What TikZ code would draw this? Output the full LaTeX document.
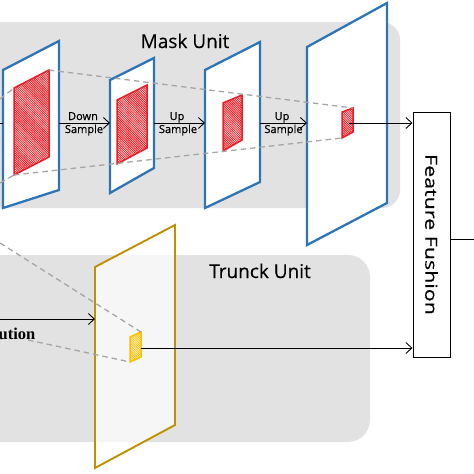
\documentclass[tikz,border=0pt]{standalone}
\usepackage{fontspec}
\setmainfont{Open Sans}
\newfontfamily\labelface{Open Sans}[FakeBold=0.7]
\newfontfamily\titleface{Open Sans}[FakeBold=0.4]
\newfontfamily\serifface{Liberation Serif}
\usetikzlibrary{arrows.meta,patterns.meta}
\definecolor{maskblue}{HTML}{2E75B6}
\definecolor{unitgrey}{HTML}{E2E2E2}
\definecolor{trunkgold}{HTML}{BF9000}
\definecolor{patchyellow}{HTML}{FFC000}
\definecolor{dashgrey}{HTML}{A6A6A6}
\definecolor{patchred}{HTML}{EE1C24}
\tikzset{
  unitbox/.style={fill=unitgrey, draw=none},
  maskplane/.style={draw=maskblue, line width=2.3pt, fill=white, line join=miter},
  trunkplane/.style={draw=trunkgold, line width=1.9pt, fill=white, fill opacity=0.7, line join=miter},
  redpatch/.style={draw=patchred, line width=1.5pt, line join=miter,
    preaction={fill=patchred},
    preaction={pattern={Lines[angle=-45,distance=1.6pt,line width=0.45pt]}, pattern color=white}},
  yellowpatch/.style={draw=patchyellow, line width=1.5pt, line join=miter,
    preaction={fill=patchyellow},
    preaction={pattern={Lines[angle=-45,distance=1.6pt,line width=0.45pt]}, pattern color=white}},
  guide/.style={draw=dashgrey, dash pattern=on 5.5pt off 4pt, line width=1.3pt},
  flow/.style={draw=black, line width=0.8pt, -{Straight Barb[length=6pt,width=11pt,line width=0.9pt]}},
  steplabel/.style={font=\labelface\fontsize{11}{11}\selectfont, inner sep=0pt, anchor=base},
  unittitle/.style={font=\titleface\fontsize{19}{19}\selectfont, inner sep=0pt, anchor=base},
  fusionbox/.style={draw=black, line width=1pt, fill=white, minimum width=37pt, minimum height=245pt, inner sep=0pt},
}
\begin{document}
\begin{tikzpicture}[x=1pt,y=-1pt]
\useasboundingbox[fill=white] (0,0) rectangle (474,474);

% unit backgrounds
\fill[unitbox, rounded corners=18pt] (-30,22) rectangle (400,208);
\fill[unitbox, rounded corners=22pt] (-30,255) rectangle (370,442);

% mask planes
\draw[maskplane] (3,70) -- (59,41) -- (59,190) -- (3,208) -- cycle;
\draw[maskplane] (110,80) -- (154,58) -- (154,168) -- (110,193) -- cycle;
\draw[maskplane] (205,70) -- (260,42) -- (260,182) -- (205,208) -- cycle;
\draw[maskplane] (307,47) -- (387,3) -- (387,203) -- (307,245) -- cycle;

% trunk plane
\draw[trunkplane] (95,267) -- (175,225) -- (175,425) -- (95,468) -- cycle;

% patches
\draw[redpatch] (14,88) coordinate (p1tl) -- (49,70) coordinate (p1tr) -- (49,157) -- (14,175) coordinate (p1bl) -- cycle;
\draw[redpatch] (117,100) -- (147,85) -- (147,148) -- (117,164) -- cycle;
\draw[redpatch] (223,103) -- (242,95) -- (242,140) -- (223,151) -- cycle;
\draw[redpatch] (342,112) coordinate (p4tl) -- (353,108) coordinate (p4tr) -- (353,132) -- (342,138) coordinate (p4bl) -- cycle;
\draw[yellowpatch] (130,337) coordinate (ytl) -- (141,332) coordinate (ytr) -- (141,357) -- (130,362) coordinate (ybl) -- cycle;

% guide lines
\coordinate (g1) at (0,99);
\coordinate (g2) at (0,183);
\coordinate (g3) at (0,243);
\coordinate (g4) at (28,340);
\draw[guide] (g1) -- (p1tl);
\draw[guide] (g2) -- (p1bl);
\draw[guide] (p1tr) -- (p4tr);
\draw[guide] (p1bl) -- (p4bl);
\draw[guide] (g3) -- (ytr);
\draw[guide] (g4) -- (ybl);

% fusion box
\node[fusionbox] (ff) at (431.5,234.5) {};
\node[rotate=-90, inner sep=0pt, font=\titleface\fontsize{16.5}{16.5}\selectfont] (fftext) at (ff.center) {\scalebox{1.3}[1]{Feature Fushion}};

% arrows
\coordinate (m0) at (0,123);
\coordinate (m1a) at (3,123);
\coordinate (m1b) at (59,123);
\coordinate (m2a) at (110,123);
\coordinate (m2b) at (154,123);
\coordinate (m3a) at (205,123);
\coordinate (m3b) at (260,123);
\coordinate (m4a) at (307,123);
\coordinate (p4c) at (349,123);
\coordinate (yc) at (141,348);
\coordinate (cin) at (0,319);
\coordinate (tin) at (95,319);
\coordinate (out) at (474,239);
\draw[line width=0.8pt] (m0) -- (m1a);
\draw[flow] (m1b) -- (m2a);
\draw[flow] (m2b) -- (m3a);
\draw[flow] (m3b) -- (m4a);
\draw[flow] (p4c) -- (ff.west |- p4c);
\draw[flow] (yc) -- (ff.west |- yc);
\draw[flow] (cin) -- (tin);
\draw[line width=0.8pt] (ff.east |- out) -- (out);

% labels
\node[steplabel] (l1a) at (83,120) {Down};
\node[steplabel] (l1b) at (84,133) {Sample};
\node[steplabel] (l2a) at (177,120) {Up};
\node[steplabel] (l2b) at (178,133) {Sample};
\node[steplabel] (l3a) at (282,120) {Up};
\node[steplabel] (l3b) at (283.5,133) {Sample};
\node[unittitle] (mt) at (185,48) {Mask Unit};
\node[unittitle] (tt) at (260,278) {Trunck Unit};
\node[inner sep=0pt, anchor=base west, font=\serifface\bfseries\fontsize{16.5}{16.5}\selectfont] (conv) at (-1.5,339) {ution};
\end{tikzpicture}
\end{document}
